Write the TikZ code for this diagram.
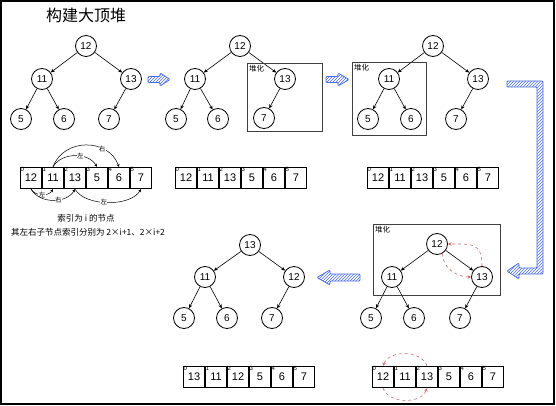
\documentclass[tikz,border=0pt]{standalone}
\usepackage{fontspec}
\setmainfont{Liberation Sans}
\newfontfamily\cjk{Noto Sans CJK SC}
\usetikzlibrary{arrows.meta,patterns}
\definecolor{hatchblue}{HTML}{4A6CE8}
\definecolor{swapred}{HTML}{D46A6A}
\tikzset{
	vnode/.style={circle,draw,line width=0.8pt,minimum size=21pt,inner sep=0pt,font=\fontsize{10}{12}\selectfont},
	treeedge/.style={line width=0.6pt,-{Stealth[length=4pt,width=3.5pt]}},
	cell/.style={draw,line width=0.7pt,minimum size=21.5pt,inner sep=0pt,font=\fontsize{11}{13}\selectfont},
	idx/.style={font=\fontsize{6}{6}\selectfont,inner sep=0.5pt},
	link/.style={line width=0.5pt,-{Stealth[length=3pt,width=3pt]}},
	lbl/.style={font=\cjk\fontsize{6.5}{7}\selectfont,fill=white,inner sep=0.3pt},
	swaplink/.style={swapred,dashed,line width=0.6pt,-{Stealth[length=3.5pt,width=3.5pt]}},
	heapbox/.style={draw=black!75,line width=0.7pt},
	boxtitle/.style={anchor=north west,font=\cjk\fontsize{7.5}{8}\selectfont,inner sep=1pt},
	hatch/.style={draw=hatchblue,line width=0.8pt,pattern=north east lines,pattern color=hatchblue,rounded corners=1pt},
	note/.style={font=\cjk\fontsize{8.5}{10}\selectfont}
}

\begin{document}
\begin{tikzpicture}[x=1pt,y=-1pt]
		\useasboundingbox (0,0) rectangle (556,406);
		\draw [line width=1.2pt](1,1) rectangle (554,404);
		\node [font=\cjk\fontsize{16}{18}\selectfont] (title) at (86,15) {构建大顶堆};
		
		% tree 1
		\node[vnode] (t1n0) at (86,46) {12};
		\node[vnode] (t1n1) at (42,79) {11};
		\node[vnode] (t1n2) at (131,79) {13};
		\node[vnode] (t1n3) at (21,119) {5};
		\node[vnode] (t1n4) at (64,119) {6};
		\node[vnode] (t1n5) at (109,119) {7};
		\draw[treeedge] (t1n0)--(t1n1);
		\draw[treeedge] (t1n0)--(t1n2);
		\draw[treeedge] (t1n1)--(t1n3);
		\draw[treeedge] (t1n1)--(t1n4);
		\draw[treeedge] (t1n2)--(t1n5);
		
		% tree 2
		\node[vnode] (t2n0) at (240,46) {12};
		\node[vnode] (t2n1) at (195,79) {11};
		\node[vnode] (t2n2) at (285,79) {13};
		\node[vnode] (t2n3) at (176,119) {5};
		\node[vnode] (t2n4) at (218,119) {6};
		\node[vnode] (t2n5) at (264,118) {7};
		\draw[treeedge] (t2n0)--(t2n1);
		\draw[treeedge] (t2n0)--(t2n2);
		\draw[treeedge] (t2n1)--(t2n3);
		\draw[treeedge] (t2n1)--(t2n4);
		\draw[treeedge] (t2n2)--(t2n5);
		\draw[heapbox] (247,63) rectangle (322,131);
		\node[boxtitle] (b2) at (248,64) {堆化};
		
		% tree 3
		\node[vnode] (t3n0) at (433,46) {12};
		\node[vnode] (t3n1) at (389,79) {11};
		\node[vnode] (t3n2) at (478,79) {13};
		\node[vnode] (t3n3) at (368,119) {5};
		\node[vnode] (t3n4) at (411,119) {6};
		\node[vnode] (t3n5) at (456,119) {7};
		\draw[treeedge] (t3n0)--(t3n1);
		\draw[treeedge] (t3n0)--(t3n2);
		\draw[treeedge] (t3n1)--(t3n3);
		\draw[treeedge] (t3n1)--(t3n4);
		\draw[treeedge] (t3n2)--(t3n5);
		\draw[heapbox] (352,62) rectangle (426,135);
		\node[boxtitle] (b3) at (353,63) {堆化};
		
		% tree 4
		\node[vnode] (t4n0) at (437,244) {12};
		\node[vnode] (t4n1) at (392,277) {11};
		\node[vnode] (t4n2) at (482,277) {13};
		\node[vnode] (t4n3) at (371,318) {5};
		\node[vnode] (t4n4) at (414,318) {6};
		\node[vnode] (t4n5) at (460,318) {7};
		\draw[treeedge] (t4n0)--(t4n1);
		\draw[treeedge] (t4n0)--(t4n2);
		\draw[treeedge] (t4n1)--(t4n3);
		\draw[treeedge] (t4n1)--(t4n4);
		\draw[treeedge] (t4n2)--(t4n5);
		\draw[heapbox] (373,224) rectangle (500,295);
		\node[boxtitle] (b4) at (374,225) {堆化};
		\draw[swaplink] (t4n0.-60) to[out=-90,in=180] (t4n2.west);
		\draw[swaplink] (t4n2.north) to[out=90,in=0,looseness=1.5] (t4n0.east);
		
		% tree 5
		\node[vnode] (t5n0) at (250,245) {13};
		\node[vnode] (t5n1) at (205,277) {11};
		\node[vnode] (t5n2) at (294,277) {12};
		\node[vnode] (t5n3) at (184,318) {5};
		\node[vnode] (t5n4) at (227,318) {6};
		\node[vnode] (t5n5) at (272,318) {7};
		\draw[treeedge] (t5n0)--(t5n1);
		\draw[treeedge] (t5n0)--(t5n2);
		\draw[treeedge] (t5n1)--(t5n3);
		\draw[treeedge] (t5n1)--(t5n4);
		\draw[treeedge] (t5n2)--(t5n5);
		
		% big arrows
		\draw[hatch] (148,76.5)--(160,76.5)--(160,73)--(170,79.5)--(160,86)--(160,82.5)--(148,82.5)--cycle;
		\draw[hatch] (326,76.5)--(338,76.5)--(338,73)--(349,79.5)--(338,86)--(338,82.5)--(326,82.5)--cycle;
		\draw[hatch] (507,81)--(543,81)--(543,274)--(519,274)--(519,279)--(507,271)--(519,263)--(519,268)--(537,268)--(537,87)--(507,87)--cycle;
		\draw[hatch] (360,274)--(330,274)--(330,270)--(317,277.5)--(330,285)--(330,281)--(360,281)--cycle;
		
		% array 1
		\node[cell] (p1c0) at (31,178) {12};
		\node[cell] (p1c1) at (53,178) {11};
		\node[cell] (p1c2) at (75,178) {13};
		\node[cell] (p1c3) at (97,178) {5};
		\node[cell] (p1c4) at (119,178) {6};
		\node[cell] (p1c5) at (141,178) {7};
		\node[idx,anchor=north west] (i1c0) at (p1c0.north west) {0};
		\node[idx,anchor=north west] (i1c1) at (p1c1.north west) {1};
		\node[idx,anchor=north west] (i1c2) at (p1c2.north west) {2};
		\node[idx,anchor=north west] (i1c3) at (p1c3.north west) {3};
		\node[idx,anchor=north west] (i1c4) at (p1c4.north west) {4};
		\node[idx,anchor=north west] (i1c5) at (p1c5.north west) {5};
		\draw[link] (p1c1.north) to[out=60,in=120] node[lbl,pos=0.6]{左} (p1c3.north);
		\draw[link] (p1c1.north) to[out=70,in=110,looseness=1.2] node[lbl,pos=0.7]{右} (p1c4.north);
		\draw[link] (p1c0.south) to[out=-60,in=-120] node[lbl]{左} (p1c1.south);
		\draw[link] (p1c0.south) to[out=-60,in=-120] node[lbl,pos=0.6]{右} (p1c2.south);
		\draw[link] (p1c2.south) to[out=-60,in=-120,looseness=0.8] node[lbl,pos=0.45]{左} (p1c5.south);
		\node[note] (note1) at (86,218) {索引为 i 的节点};
		\node[note] (note2) at (88,232) {其左右子节点索引分别为 2×i+1、2×i+2};
		
		% array 2
		\node[cell] (p2c0) at (186,178) {12};
		\node[cell] (p2c1) at (208,178) {11};
		\node[cell] (p2c2) at (230,178) {13};
		\node[cell] (p2c3) at (252,178) {5};
		\node[cell] (p2c4) at (274,178) {6};
		\node[cell] (p2c5) at (296,178) {7};
		\node[idx,anchor=north west] (i2c0) at (p2c0.north west) {0};
		\node[idx,anchor=north west] (i2c1) at (p2c1.north west) {1};
		\node[idx,anchor=north west] (i2c2) at (p2c2.north west) {2};
		\node[idx,anchor=north west] (i2c3) at (p2c3.north west) {3};
		\node[idx,anchor=north west] (i2c4) at (p2c4.north west) {4};
		\node[idx,anchor=north west] (i2c5) at (p2c5.north west) {5};
		
		% array 3
		\node[cell] (p3c0) at (378,178) {12};
		\node[cell] (p3c1) at (400,178) {11};
		\node[cell] (p3c2) at (422,178) {13};
		\node[cell] (p3c3) at (444,178) {5};
		\node[cell] (p3c4) at (466,178) {6};
		\node[cell] (p3c5) at (488,178) {7};
		\node[idx,anchor=north west] (i3c0) at (p3c0.north west) {0};
		\node[idx,anchor=north west] (i3c1) at (p3c1.north west) {1};
		\node[idx,anchor=north west] (i3c2) at (p3c2.north west) {2};
		\node[idx,anchor=north west] (i3c3) at (p3c3.north west) {3};
		\node[idx,anchor=north west] (i3c4) at (p3c4.north west) {4};
		\node[idx,anchor=north west] (i3c5) at (p3c5.north west) {5};
		
		% array 4
		\node[cell] (p4c0) at (383,377) {12};
		\node[cell] (p4c1) at (405,377) {11};
		\node[cell] (p4c2) at (427,377) {13};
		\node[cell] (p4c3) at (449,377) {5};
		\node[cell] (p4c4) at (471,377) {6};
		\node[cell] (p4c5) at (493,377) {7};
		\node[idx,anchor=north west] (i4c0) at (p4c0.north west) {0};
		\node[idx,anchor=north west] (i4c1) at (p4c1.north west) {1};
		\node[idx,anchor=north west] (i4c2) at (p4c2.north west) {2};
		\node[idx,anchor=north west] (i4c3) at (p4c3.north west) {3};
		\node[idx,anchor=north west] (i4c4) at (p4c4.north west) {4};
		\node[idx,anchor=north west] (i4c5) at (p4c5.north west) {5};
		\draw[swaplink] (p4c2.north) to[out=110,in=70] (p4c0.north);
		\draw[swaplink] (p4c0.south) to[out=-70,in=-110] (p4c2.south);
		
		% array 5
		\node[cell] (p5c0) at (194,377) {13};
		\node[cell] (p5c1) at (216,377) {11};
		\node[cell] (p5c2) at (238,377) {12};
		\node[cell] (p5c3) at (260,377) {5};
		\node[cell] (p5c4) at (282,377) {6};
		\node[cell] (p5c5) at (304,377) {7};
		\node[idx,anchor=north west] (i5c0) at (p5c0.north west) {0};
		\node[idx,anchor=north west] (i5c1) at (p5c1.north west) {1};
		\node[idx,anchor=north west] (i5c2) at (p5c2.north west) {2};
		\node[idx,anchor=north west] (i5c3) at (p5c3.north west) {3};
		\node[idx,anchor=north west] (i5c4) at (p5c4.north west) {4};
		\node[idx,anchor=north west] (i5c5) at (p5c5.north west) {5};
	\end{tikzpicture}
\end{document}
